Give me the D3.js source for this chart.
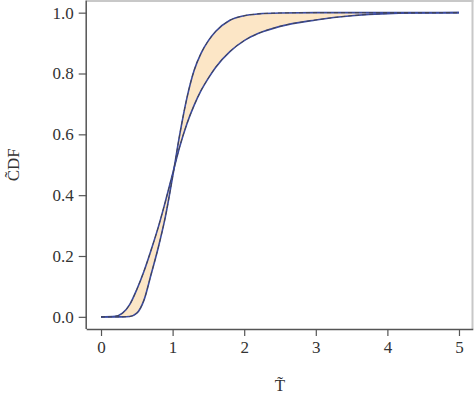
<!DOCTYPE html>
<html>
<head>
<meta charset="utf-8">
<script src="https://cdn.jsdelivr.net/npm/d3@7"></script>
<style>
  html, body { margin: 0; padding: 0; background: #fff; }
  svg { display: block; }
  svg text { font-family: "Liberation Serif", "DejaVu Serif", serif !important; fill: #333; }
</style>
</head>
<body>
<svg id="chart" width="474" height="398"></svg>
<script>
// Data
const tValues = [0, 0.2, 0.3, 0.4, 0.5, 0.6, 0.7, 0.8, 0.9, 1.0, 1.1, 1.2, 1.3, 1.4, 1.5, 1.6, 1.8, 2.0, 2.2, 2.5, 3.0, 3.5, 4.0, 4.5, 5.0];
const cdfShallow = [0, 0.002, 0.012, 0.04, 0.09, 0.15, 0.22, 0.295, 0.38, 0.47, 0.56, 0.635, 0.695, 0.745, 0.785, 0.82, 0.872, 0.908, 0.932, 0.955, 0.976, 0.99, 0.997, 0.999, 1.0];
const cdfSteep   = [0, 0, 0, 0.001, 0.012, 0.055, 0.14, 0.228, 0.33, 0.46, 0.6, 0.72, 0.81, 0.868, 0.908, 0.938, 0.975, 0.99, 0.996, 0.999, 1.0, 1.0, 1.0, 1.0, 1.0];
const xTicks = [0, 1, 2, 3, 4, 5];
const yTicks = [0.0, 0.2, 0.4, 0.6, 0.8, 1.0];
const xLabel = "T\u0303";
const yLabel = "C\u0303DF";

const svg = d3.select("#chart");
const pLeft = 86.7, pRight = 473.3, pTop = 0.5, pBottom = 329;
const serif = '"Liberation Serif", "DejaVu Serif", serif';

const x = d3.scaleLinear().domain([-0.2, 5.2]).range([pLeft, pRight]);
const y = d3.scaleLinear().domain([-0.04, 1.04]).range([pBottom, pTop]);

const rows = tValues.map((t, i) => ({ t, a: cdfShallow[i], b: cdfSteep[i] }));

// fill between the two curves
const area = d3.area()
  .x(d => x(d.t))
  .y0(d => y(d.a))
  .y1(d => y(d.b))
  .curve(d3.curveMonotoneX);
svg.append("path").datum(rows)
  .attr("d", area)
  .attr("fill", "#fce6c6")
  .attr("stroke", "none");

const lineA = d3.line().x(d => x(d.t)).y(d => y(d.a)).curve(d3.curveMonotoneX);
const lineB = d3.line().x(d => x(d.t)).y(d => y(d.b)).curve(d3.curveMonotoneX);

[lineA, lineB].forEach(l => {
  svg.append("path").datum(rows).attr("d", l)
    .attr("fill", "none").attr("stroke", "#3a4aa0").attr("stroke-width", 1.6);
  svg.append("path").datum(rows).attr("d", l)
    .attr("fill", "none").attr("stroke", "#444").attr("stroke-width", 0.9)
    .attr("stroke-dasharray", "4,3");
});

// box: top/right light grey, left/bottom dark
svg.append("line").attr("x1", pLeft).attr("x2", pRight).attr("y1", 1).attr("y2", 1)
  .attr("stroke", "#c8c8c8").attr("stroke-width", 2);
svg.append("line").attr("x1", 472.5).attr("x2", 472.5).attr("y1", 0).attr("y2", pBottom)
  .attr("stroke", "#c8c8c8").attr("stroke-width", 2);

// axes
const xAxis = d3.axisBottom(x).tickValues(xTicks).tickFormat(d3.format("d"))
  .tickSizeOuter(0).tickSizeInner(7).tickPadding(5);
const gx = svg.append("g").attr("transform", `translate(0,${pBottom})`).call(xAxis);
gx.select(".domain").attr("d", `M${pLeft},0.5H${pRight}`);

const yAxis = d3.axisLeft(y).tickValues(yTicks).tickFormat(d3.format(".1f"))
  .tickSizeOuter(0).tickSizeInner(8).tickPadding(5);
const gy = svg.append("g").attr("transform", `translate(${pLeft},0)`).call(yAxis);
gy.select(".domain").attr("d", `M-0.5,${pTop}V${pBottom}`);

[gx, gy].forEach(g => {
  g.attr("font-family", serif).attr("font-size", 17);
  g.selectAll(".domain").attr("stroke", "#555").attr("stroke-width", 1.5);
  g.selectAll(".tick line").attr("stroke", "#555").attr("stroke-width", 1.2);
  g.selectAll(".tick text").style("font-family", serif)
    .style("font-size", "17px").attr("fill", "#333");
});

// axis titles
svg.append("text").attr("x", (pLeft + pRight) / 2).attr("y", 391)
  .attr("text-anchor", "middle").style("font-family", serif).style("font-size", "17px").text(xLabel);
svg.append("text").attr("transform", `translate(19,${(pTop + pBottom) / 2}) rotate(-90)`)
  .attr("text-anchor", "middle").style("font-family", serif).style("font-size", "17px").text(yLabel);
</script>
</body>
</html>
